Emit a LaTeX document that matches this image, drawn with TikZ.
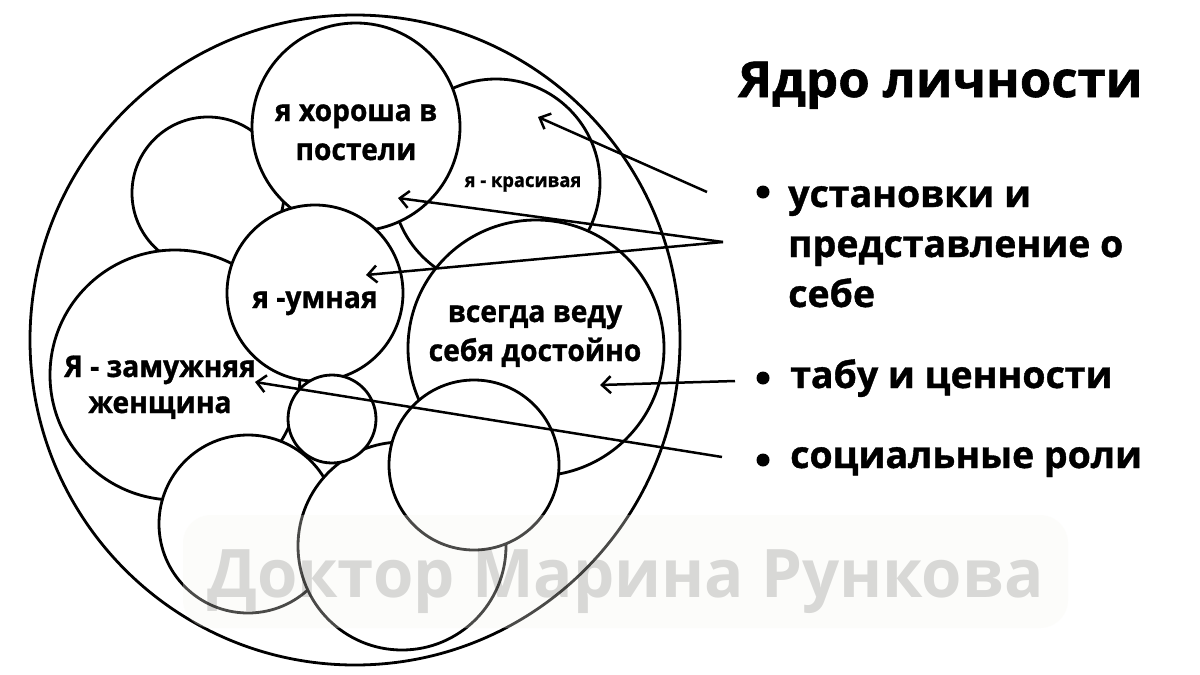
\documentclass[tikz,border=0pt]{standalone}
\usepackage{fontspec}
\setmainfont{Open Sans}[FakeBold=1]
\newfontfamily\lblfont{Open Sans}[FakeStretch=0.94,FakeBold=1]
\newfontfamily\ttlfont{Open Sans}[FakeStretch=1.03,FakeBold=1.2]
\newfontfamily\wmfont{Open Sans}[FakeStretch=0.975]
\usetikzlibrary{arrows.meta}
\begin{document}
\begin{tikzpicture}[x=1pt,y=-1pt,
  bub/.style={circle,draw=black,line width=2.8pt,fill=white,inner sep=0pt},
  lbl/.style={font=\lblfont\bfseries\fontsize{30}{40}\selectfont,inner sep=0pt,anchor=base},
  small/.style={font=\lblfont\bfseries\fontsize{19.5}{24}\selectfont,inner sep=0pt,anchor=base},
  item/.style={font=\bfseries\fontsize{37.5}{50}\selectfont,inner sep=0pt,anchor=base west},
  dot/.style={circle,fill=black,inner sep=0pt,minimum size=13pt},
  arr/.style={line width=2.5pt,-{Straight Barb[length=9pt,width=17pt]}},
]
\useasboundingbox[fill=white] (0,0) rectangle (1200,675);
% circles, back to front
\node[bub,minimum size=650pt] (O) at (355,340) {};
\node[bub,minimum size=152pt] (B) at (208,193) {};
\node[bub,minimum size=208pt] (C) at (496,183) {};
\node[bub,minimum size=208pt] (A) at (356,127) {};
\node[bub,minimum size=250pt] (E) at (175,375) {};
\node[bub,minimum size=176pt] (D) at (315,293) {};
\node[bub,minimum size=178pt] (F) at (248,524) {};
\node[bub,minimum size=208pt] (H) at (402,546) {};
\node[bub,minimum size=88pt] (G) at (332,419) {};
\node[bub,minimum size=256pt] (J) at (536,348) {};
\node[bub,minimum size=170pt] (I) at (474,465) {};
% labels
\node[lbl] (A1) at (356,121) {я хороша в};
\node[lbl] (A2) at (356,160) {постели};
\node[small] (C1) at (523,187) {я - красивая};
\node[lbl] (D1) at (315,308) {я -умная};
\node[lbl] (J1) at (535,322) {всегда веду};
\node[lbl] (J2) at (535,361) {себя достойно};
\node[lbl] (E1) at (160,377) {Я - замужняя};
\node[lbl] (E2) at (160,413) {женщина};
% title and list
\node[font=\ttlfont\bfseries\fontsize{49.5}{59}\selectfont,inner sep=0pt,anchor=base west] (T) at (738,97) {Ядро личности};
\node[dot] (b1) at (763,192) {};
\node[dot] (b2) at (763,378) {};
\node[dot] (b3) at (763,460) {};
\node[item] (L1) at (788,207) {установки и};
\node[item] (L2) at (788,257) {представление о};
\node[item] (L3) at (788,307) {себе};
\node[item] (L4) at (790,388) {табу и ценности};
\node[item] (L5) at (790,468) {социальные роли};
% connectors
\coordinate (s1) at (707,192);
\coordinate (t1) at (538,117);
\coordinate (s2) at (723,242);
\coordinate (t2) at (398,198);
\coordinate (t3) at (366,275);
\coordinate (s4) at (735,381);
\coordinate (t4) at (600,385);
\coordinate (s5) at (722,457);
\coordinate (t5) at (255,382);
\draw[arr] (s1) -- (t1);
\draw[arr] (s2) -- (t2);
\draw[arr] (s2) -- (t3);
\draw[arr] (s4) -- (t4);
\draw[arr] (s5) -- (t5);
% watermark
\node[draw=none,fill={rgb,255:red,248;green,246;blue,240},fill opacity=0.3,rounded corners=28pt,minimum width=885pt,minimum height=113pt,inner sep=0pt] (W) at (625.5,571.5) {};
\node[font=\wmfont\bfseries\fontsize{67}{80}\selectfont,text=black,text opacity=0.14,inner sep=0pt,anchor=base west] (WT) at (207,597) {Доктор Марина Рункова};
\end{tikzpicture}
\end{document}
